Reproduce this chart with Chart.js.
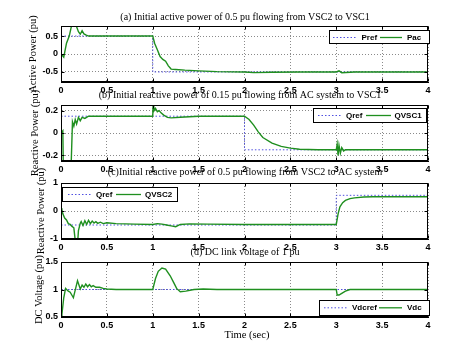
<!DOCTYPE html>
<html>
<head>
<meta charset="utf-8">
<script src="https://cdn.jsdelivr.net/npm/chart.js@4.4.0/dist/chart.umd.min.js"></script>
<style>
  body { margin: 0; background: #fff; }
  #wrap { position: relative; width: 474px; height: 348px; overflow: hidden; background: #fff; }
  #wrap canvas { position: absolute; left: 0; }
</style>
</head>
<body>
<div id="wrap"></div>
<script>
// shared time ticks
const timeTicks = [0, 0.5, 1, 1.5, 2, 2.5, 3, 3.5, 4];

// (a) active power
const prefT = [0, 1, 1, 4];
const prefV = [0.5, 0.5, -0.5, -0.5];
const pacT = [0, 0.03, 0.06, 0.09, 0.12, 0.15, 0.19, 0.21, 0.23, 0.25, 0.27, 0.3, 0.35, 0.5, 0.8, 1.0,
  1.02, 1.05, 1.08, 1.11, 1.14, 1.17, 1.2, 1.25, 1.35, 1.5, 1.7, 2.0, 2.1, 2.3, 2.6, 3.0, 3.03, 3.06, 3.2, 4.0];
const pacV = [0, -0.09, 0.3, 0.5, 0.85, 0.9, 0.62, 0.55, 0.65, 0.56, 0.53, 0.5, 0.5, 0.5, 0.5, 0.5,
  0.3, 0.12, -0.07, -0.15, -0.2, -0.33, -0.42, -0.43, -0.45, -0.47, -0.49, -0.5, -0.52, -0.51, -0.5, -0.5, -0.47, -0.52, -0.5, -0.5];

// (b) reactive power VSC1
const qref1T = [0, 2, 2, 4];
const qref1V = [0.15, 0.15, -0.15, -0.15];
const qvsc1T = [0, 0.02, 0.025, 0.035, 0.11, 0.125, 0.14, 0.155, 0.17, 0.19, 0.21, 0.23, 0.26, 0.3, 0.4, 0.6, 1.0,
  1.005, 1.015, 1.03, 1.05, 1.07, 1.09, 1.12, 1.16, 1.2, 1.3, 1.5, 2.0, 2.05, 2.1, 2.15, 2.2, 2.3, 2.4, 2.5, 2.6, 2.8,
  3.0, 3.01, 3.02, 3.03, 3.045, 3.06, 3.08, 3.1, 3.5, 4.0];
const qvsc1V = [0, 0.02, -0.3, -0.3, -0.3, 0.1, 0.06, 0.12, 0.08, 0.14, 0.11, 0.14, 0.13, 0.15, 0.15, 0.15, 0.15,
  0.3, 0.2, 0.22, 0.19, 0.2, 0.18, 0.16, 0.14, 0.135, 0.14, 0.15, 0.15, 0.12, 0.07, 0.01, -0.04, -0.09, -0.12, -0.135, -0.145, -0.15,
  -0.15, -0.1, -0.2, -0.11, -0.18, -0.13, -0.16, -0.15, -0.15, -0.15];

// (c) reactive power VSC2
const qref2T = [0, 3, 3, 4];
const qref2V = [-0.5, -0.5, 0.56, 0.56];
const qvsc2T = [0, 0.01, 0.02, 0.04, 0.06, 0.08, 0.1, 0.12, 0.14, 0.15, 0.16, 0.18, 0.19, 0.21, 0.22, 0.24, 0.26, 0.28,
  0.3, 0.32, 0.34, 0.36, 0.38, 0.4, 0.43, 0.46, 0.5, 0.6, 0.8, 1.0, 1.05, 1.1, 1.15, 1.2, 1.25, 1.3, 1.4, 1.6, 2.0, 2.5,
  3.0, 3.02, 3.04, 3.07, 3.1, 3.15, 3.2, 3.3, 3.4, 3.6, 4.0];
const qvsc2V = [0.1, 0.05, -0.1, -0.25, -0.32, -0.45, -0.48, -0.55, -0.6, -0.9, -1.2, -1.2, -0.7, -0.44, -0.38, -0.52, -0.35, -0.48,
  -0.33, -0.45, -0.36, -0.43, -0.38, -0.44, -0.4, -0.45, -0.42, -0.45, -0.47, -0.48, -0.45, -0.47, -0.5, -0.53, -0.56, -0.48, -0.46, -0.47, -0.48, -0.48,
  -0.48, -0.1, 0.15, 0.3, 0.38, 0.44, 0.47, 0.5, 0.51, 0.51, 0.51];

// (d) DC link voltage
const vdcrefT = [0, 4];
const vdcrefV = [1, 1];
const vdcT = [0, 0.01, 0.03, 0.05, 0.08, 0.1, 0.135, 0.18, 0.21, 0.23, 0.25, 0.27, 0.29, 0.31, 0.33, 0.35, 0.38, 0.42, 0.46, 0.5, 0.6, 1.0,
  1.03, 1.06, 1.1, 1.14, 1.19, 1.23, 1.26, 1.3, 1.36, 1.45, 1.55, 1.7, 2.0, 3.0, 3.01, 3.03, 3.06, 3.1, 3.15, 4.0];
const vdcV = [0.5, 0.55, 0.85, 1.02, 0.97, 0.95, 0.85, 1.16, 1.01, 1.08, 1.04, 1.1, 1.05, 1.09, 1.05, 1.07, 1.04, 1.04, 1.02, 1.01, 1.0, 1.0,
  1.2, 1.33, 1.39, 1.37, 1.25, 1.12, 1.02, 0.96, 0.97, 1.0, 1.01, 1.0, 1.0, 1.0, 0.9, 0.9, 0.93, 0.97, 1.0, 1.0];

const GREEN = "#1f8f1f";
const BLUE = "#5050e0";
const pts = (t, v) => t.map((x, i) => ({ x: x, y: v[i] }));

const panels = [
  {
    top: 26, bottom: 82, yMin: -0.78, yMax: 0.78, yTicks: [-0.5, 0, 0.5],
    title: "(a) Initial active power of 0.5 pu flowing from VSC2 to VSC1", titleX: 245, titleY: 17,
    ylabel: "Active Power (pu)", ylabelX: 33,
    refName: "Pref", refT: prefT, refV: prefV, name: "Pac", t: pacT, v: pacV,
    legend: { box: [329, 30, 100, 13], cy: 37.5, dash: [333, 357], txt1: 361.5, line: [380, 402], txt2: 407 }
  },
  {
    top: 105, bottom: 161, yMin: -0.25, yMax: 0.25, yTicks: [-0.2, 0, 0.2],
    title: "(b) Initial reactive power of 0.15 pu flowing from AC system to VSC1", titleX: 240, titleY: 95,
    ylabel: "Reactive Power (pu)", ylabelX: 35,
    refName: "Qref", refT: qref1T, refV: qref1V, name: "QVSC1", t: qvsc1T, v: qvsc1V,
    legend: { box: [313, 108, 113, 14], cy: 115.5, dash: [318, 341], txt1: 346, line: [366, 391], txt2: 394.5 }
  },
  {
    top: 183, bottom: 239, yMin: -1, yMax: 1, yTicks: [-1, 0, 1],
    title: "(c)Initial reactive power of 0.5 pu flowing from VSC2 to AC system", titleX: 245, titleY: 172,
    ylabel: "Reactive Power (pu)", ylabelX: 41,
    refName: "Qref", refT: qref2T, refV: qref2V, name: "QVSC2", t: qvsc2T, v: qvsc2V,
    legend: { box: [62, 187, 115, 14], cy: 194.5, dash: [68, 91], txt1: 96, line: [116, 141], txt2: 145 }
  },
  {
    top: 262, bottom: 317, yMin: 0.5, yMax: 1.5, yTicks: [0.5, 1, 1.5],
    title: "(d) DC link voltage of 1 pu", titleX: 245, titleY: 252,
    ylabel: "DC Voltage (pu)", ylabelX: 39, xlabel: "Time (sec)",
    refName: "Vdcref", refT: vdcrefT, refV: vdcrefV, name: "Vdc", t: vdcT, v: vdcV,
    legend: { box: [319, 300, 110, 15], cy: 307.8, dash: [324, 347], txt1: 352, line: [379, 402], txt2: 407 }
  }
];

// frame, inward ticks, title, axis labels and legend drawn on top
const boxPlugin = {
  id: "box",
  afterDraw(chart, args, o) {
    const { ctx, chartArea: a, scales } = chart;
    const off = o.offset;
    const L = Math.round(a.left) + 0.5, R = Math.round(a.right) - 0.5;
    const T = Math.round(a.top) + 0.5, B = Math.round(a.bottom) - 0.5;
    ctx.save();
    ctx.strokeStyle = "#000";
    ctx.lineWidth = 1;
    ctx.setLineDash([]);
    ctx.beginPath();
    scales.x.ticks.forEach(t => {
      const px = Math.round(scales.x.getPixelForValue(t.value)) + 0.5;
      ctx.moveTo(px, T); ctx.lineTo(px, T + 3);
      ctx.moveTo(px, B); ctx.lineTo(px, B - 3);
    });
    scales.y.ticks.forEach(t => {
      const py = Math.round(scales.y.getPixelForValue(t.value)) + 0.5;
      ctx.moveTo(L, py); ctx.lineTo(L + 3, py);
      ctx.moveTo(R, py); ctx.lineTo(R - 3, py);
    });
    ctx.stroke();
    ctx.strokeRect(L, T, R - L, B - T);

    ctx.fillStyle = "#000";
    ctx.textBaseline = "middle";
    ctx.textAlign = "center";
    ctx.font = "10px 'Liberation Serif', serif";
    ctx.fillText(o.title, o.titleX, o.titleY - off);
    ctx.font = "10.5px 'Liberation Serif', serif";
    if (o.xlabel) ctx.fillText(o.xlabel, 247, 335 - off);

    ctx.save();
    ctx.translate(o.ylabelX, (a.top + a.bottom) / 2);
    ctx.rotate(-Math.PI / 2);
    ctx.fillText(o.ylabel, 0, 0);
    ctx.restore();

    // legend
    const lg = o.legend;
    const bx = lg.box;
    const cy = lg.cy - off;
    ctx.fillStyle = "#fff";
    ctx.fillRect(bx[0], bx[1] - off, bx[2], bx[3]);
    ctx.strokeStyle = "#000";
    ctx.strokeRect(bx[0] + 0.5, bx[1] - off + 0.5, bx[2], bx[3]);
    ctx.beginPath();
    ctx.strokeStyle = BLUE;
    ctx.setLineDash([1.5, 2]);
    ctx.moveTo(lg.dash[0], cy); ctx.lineTo(lg.dash[1], cy);
    ctx.stroke();
    ctx.beginPath();
    ctx.setLineDash([]);
    ctx.strokeStyle = GREEN;
    ctx.lineWidth = 1.3;
    ctx.moveTo(lg.line[0], cy); ctx.lineTo(lg.line[1], cy);
    ctx.stroke();
    ctx.fillStyle = "#000";
    ctx.textAlign = "left";
    ctx.font = "bold 8px 'Liberation Sans', Arial, sans-serif";
    ctx.fillText(o.refName, lg.txt1, cy);
    ctx.fillText(o.name, lg.txt2, cy);
    ctx.restore();
  }
};

const wrap = document.getElementById("wrap");
const PAD = 26;

panels.forEach(p => {
  const cv = document.createElement("canvas");
  const h = p.bottom - p.top + 2 * PAD;
  const off = p.top - PAD;
  cv.width = 474;
  cv.height = h;
  cv.style.top = off + "px";
  cv.style.width = "474px";
  cv.style.height = h + "px";
  wrap.appendChild(cv);

  new Chart(cv.getContext("2d"), {
    type: "line",
    data: {
      datasets: [
        {
          label: p.name,
          data: pts(p.t, p.v),
          borderColor: GREEN,
          borderWidth: 1.4,
          pointRadius: 0,
          tension: 0,
          order: 0
        },
        {
          label: p.refName,
          data: pts(p.refT, p.refV),
          borderColor: BLUE,
          borderWidth: 1,
          borderDash: [1.5, 2],
          pointRadius: 0,
          tension: 0,
          order: 1
        }
      ]
    },
    options: {
      responsive: false,
      animation: false,
      layout: { padding: { top: PAD, bottom: 0, left: 0, right: 46 } },
      scales: {
        x: {
          type: "linear",
          min: 0,
          max: 4,
          afterBuildTicks: s => { s.ticks = timeTicks.map(v => ({ value: v })); },
          afterFit: s => { s.height = PAD; },
          grid: { color: "#8a8a8a", drawTicks: false },
          border: { display: true, color: "#000", dash: [1, 2] },
          ticks: {
            padding: 3,
            color: "#000",
            maxRotation: 0,
            autoSkip: false,
            font: { family: "'Liberation Sans', Arial, sans-serif", size: 9, weight: "bold" },
            callback: v => String(v)
          }
        },
        y: {
          type: "linear",
          min: p.yMin,
          max: p.yMax,
          afterBuildTicks: s => { s.ticks = p.yTicks.map(v => ({ value: v })); },
          afterFit: s => { s.width = 61; },
          grid: { color: "#8a8a8a", drawTicks: false },
          border: { display: true, color: "#000", dash: [1, 2] },
          ticks: {
            padding: 3,
            color: "#000",
            autoSkip: false,
            font: { family: "'Liberation Sans', Arial, sans-serif", size: 9, weight: "bold" },
            callback: v => String(v)
          }
        }
      },
      plugins: {
        legend: { display: false },
        tooltip: { enabled: false },
        title: { display: false },
        box: Object.assign({ offset: off }, p)
      }
    },
    plugins: [boxPlugin]
  });
});
</script>
</body>
</html>
